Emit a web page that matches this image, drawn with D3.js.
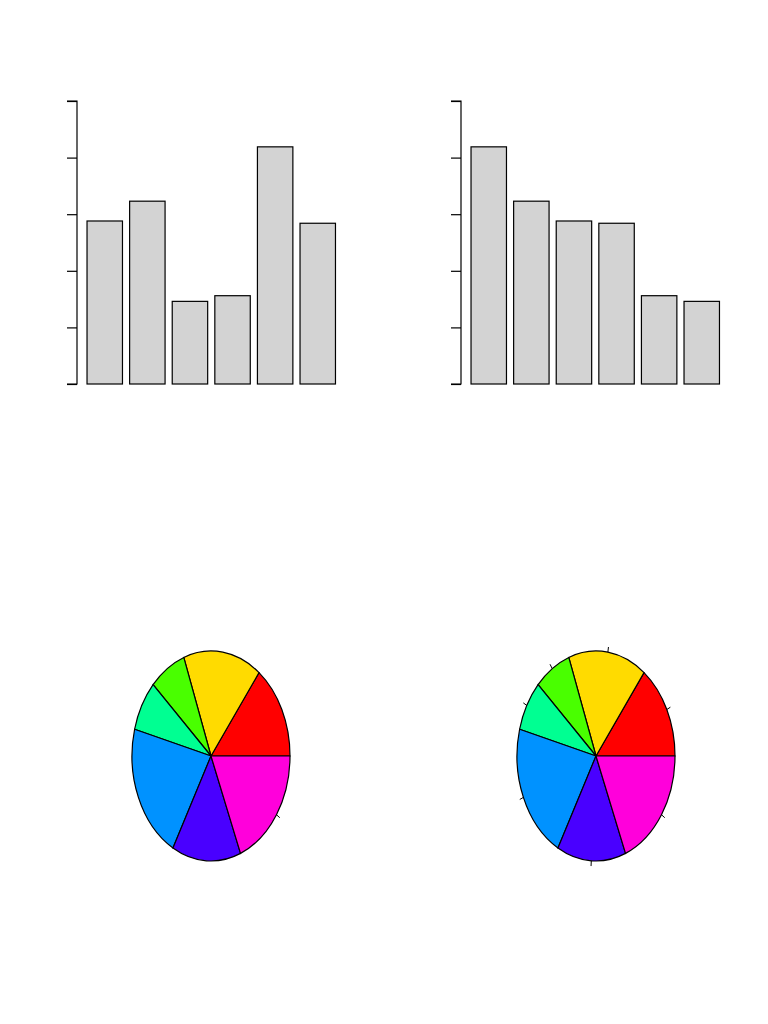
<!DOCTYPE html>
<html>
<head>
<meta charset="utf-8">
<script src="https://cdn.jsdelivr.net/npm/d3@7"></script>
<style>
  body { margin: 0; background: #fff; }
  svg { display: block; }
</style>
</head>
<body>
<div id="chart"></div>
<script>
// data
var barNames  = ["A", "B", "C", "D", "E", "F"];
var barValues = [28.8, 32.3, 14.6, 15.6, 41.9, 28.4];
var yTicks    = [0, 10, 20, 30, 40, 50];

var pieNames  = ["1", "2", "3", "4", "5", "6", "7"];
var pieValues = [14.6, 16.0, 7.5, 7.8, 21.1, 14.1, 18.9];
var pieColors = ["#FF0000", "#FFDB00", "#49FF00", "#00FF92", "#0092FF", "#4900FF", "#FF00DB"];

var svg = d3.select("#chart").append("svg")
    .attr("width", 768)
    .attr("height", 1024);

// bar plots -----------------------------------------------------------
function barPlot(names, values, axisX, firstBar) {
    var x = d3.scaleBand().domain(names)
        .range([firstBar - 0.2 * 35.5 / 2, firstBar + 6 * 42.6 - 0.2 * 35.5 / 2])
        .paddingInner(0.168).paddingOuter(0.084);
    var y = d3.scaleLinear().domain([0, 50]).range([384, 101]);

    var g = svg.append("g");
    g.selectAll("rect")
        .data(names)
        .enter()
        .append("rect")
        .attr("x", function(d) { return x(d); })
        .attr("y", function(d, i) { return y(values[i]); })
        .attr("width", x.bandwidth())
        .attr("height", function(d, i) { return y(0) - y(values[i]); })
        .attr("fill", "#D3D3D3")
        .attr("stroke", "black")
        .attr("stroke-width", 1.2);

    var axis = d3.axisLeft(y).tickValues(yTicks).tickSize(10).tickFormat("");
    svg.append("g")
        .attr("transform", "translate(" + axisX + ",0)")
        .call(axis)
        .call(function(s) {
            s.select(".domain").attr("d", "M-10," + y(0) + "H0V" + y(50) + "H-10")
                .attr("stroke-width", 1.2);
            s.selectAll(".tick line").attr("stroke-width", 1.2);
        });
}

barPlot(barNames, barValues, 77, 87);

var order = d3.range(barValues.length).sort(function(a, b) { return barValues[b] - barValues[a]; });
barPlot(order.map(function(i) { return barNames[i]; }),
        order.map(function(i) { return barValues[i]; }), 461, 471);

// pie charts ----------------------------------------------------------
function piePlot(cx, cy, rx, ry, tickIdx) {
    var arcs = d3.pie().sort(null).startAngle(0).endAngle(2 * Math.PI)(pieValues);
    var g = svg.append("g");
    function pt(a, r) {
        return [cx + rx * r * Math.cos(a), cy - ry * r * Math.sin(a)];
    }
    g.selectAll("path")
        .data(arcs)
        .enter()
        .append("path")
        .attr("d", function(d) {
            var p0 = pt(d.startAngle, 1), p1 = pt(d.endAngle, 1);
            var large = (d.endAngle - d.startAngle) > Math.PI ? 1 : 0;
            return "M" + cx + "," + cy + "L" + p0[0] + "," + p0[1] +
                "A" + rx + "," + ry + " 0 " + large + " 0 " + p1[0] + "," + p1[1] + "Z";
        })
        .attr("fill", function(d, i) { return pieColors[i]; })
        .attr("stroke", "black")
        .attr("stroke-width", 1.2);

    g.selectAll("line")
        .data(arcs.filter(function(d, i) { return tickIdx.indexOf(i) >= 0; }))
        .enter()
        .append("line")
        .attr("x1", function(d) { return pt((d.startAngle + d.endAngle) / 2, 1)[0]; })
        .attr("y1", function(d) { return pt((d.startAngle + d.endAngle) / 2, 1)[1]; })
        .attr("x2", function(d) { return pt((d.startAngle + d.endAngle) / 2, 1.05)[0]; })
        .attr("y2", function(d) { return pt((d.startAngle + d.endAngle) / 2, 1.05)[1]; })
        .attr("stroke", "black")
        .attr("stroke-width", 1);
}

piePlot(211, 756, 79, 105, [6]);
piePlot(596, 756, 79, 105, [0, 1, 2, 3, 4, 5, 6]);
</script>
</body>
</html>
